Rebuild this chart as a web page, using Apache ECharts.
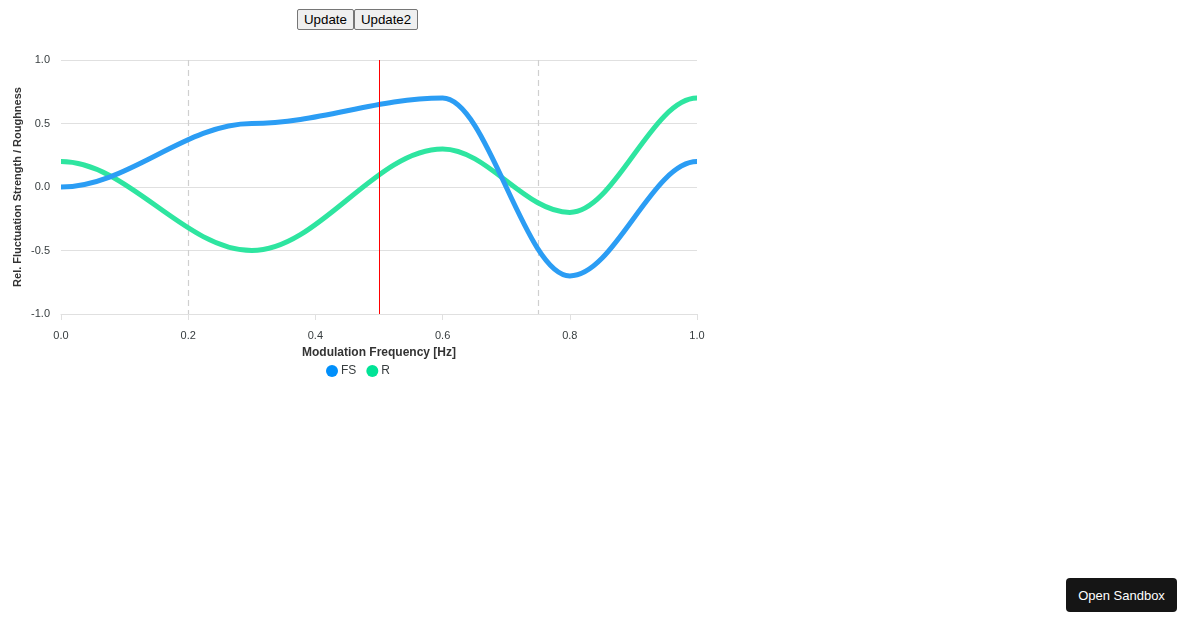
<!DOCTYPE html>
<html>
<head>
<meta charset="utf-8">
<script src="https://cdn.jsdelivr.net/npm/echarts@6/dist/echarts.min.js"></script>
<style>
  html, body { margin: 0; padding: 0; background: #fff; width: 1200px; height: 630px; overflow: hidden; font-family: "Liberation Sans", Arial, sans-serif; }
  #chart { position: absolute; left: 0; top: 0; width: 1200px; height: 630px; }
  .btns { position: absolute; left: 297px; top: 9px; display: flex; z-index: 2; }
  .btns button { font-family: "Liberation Sans", Arial, sans-serif; font-size: 13.3px; height: 21px; padding: 0 6px; border: 1px solid #767676; border-radius: 2px; background: #efefef; color: #000; margin: 0; }
  .sandbox { position: absolute; left: 1066px; top: 578px; width: 111px; height: 34px; background: #151515; color: #fff; border: none; border-radius: 4px; font-family: "Liberation Sans", Arial, sans-serif; font-size: 13px; z-index: 2; }
</style>
</head>
<body>
<div class="btns"><button>Update</button><button>Update2</button></div>
<div id="chart"></div>
<button class="sandbox">Open Sandbox</button>
<script>
const seriesNames = ['FS', 'R'];
const xValues = [0, 0.3, 0.6, 0.8, 1.0];
const fsValues = [0, 0.5, 0.7, -0.7, 0.2];
const rValues = [0.2, -0.5, 0.3, -0.2, 0.7];
const dashedMarks = [0.2, 0.75];
const redMarks = [0.5];
const xTicks = [0, 0.2, 0.4, 0.6, 0.8, 1.0];

const lineColors = ['#2B9DF4', '#2EE5A0'];
const legendColors = ['#008FFB', '#00E396'];
const Y_MIN = -1, Y_MAX = 1;

function pairs(xs, ys) { return xs.map((x, i) => [x, ys[i]]); }

// Smooth curve: horizontal control handles at 35% of each segment, positioned through the axis scales.
function makeRenderer(ys, color) {
  return function (params, api) {
    if (params.dataIndex !== 0) return null;
    const pts = xValues.map((x, i) => api.coord([x, ys[i]]));
    let d = 'M' + pts[0][0] + ' ' + pts[0][1];
    for (let i = 1; i < pts.length; i++) {
      const p0 = pts[i - 1], p1 = pts[i];
      const len = (p1[0] - p0[0]) * 0.35;
      d += ' C' + (p0[0] + len) + ' ' + p0[1] + ' ' + (p1[0] - len) + ' ' + p1[1] + ' ' + p1[0] + ' ' + p1[1];
    }
    return {
      type: 'path',
      shape: { pathData: d },
      style: { fill: 'none', stroke: color, lineWidth: 5, lineCap: 'butt', lineJoin: 'round' }
    };
  };
}

function vLineRenderer(color, dash, width) {
  return function (params, api) {
    const v = api.value(0);
    const a = api.coord([v, Y_MAX]);
    const b = api.coord([v, Y_MIN]);
    const x = Math.round(a[0]) + 0.5;
    return {
      type: 'line',
      shape: { x1: x, y1: a[1], x2: x, y2: b[1] },
      style: { stroke: color, lineWidth: width, lineDash: dash }
    };
  };
}

const chart = echarts.init(document.getElementById('chart'), null, { renderer: 'canvas' });
chart.setOption({
  animation: false,
  grid: { left: 61, top: 60, width: 636, height: 254, containLabel: false },
  legend: {
    data: seriesNames.map((n, i) => ({ name: n, icon: 'circle', itemStyle: { color: legendColors[i] } })),
    left: 321, top: 360, itemWidth: 12, itemHeight: 12, itemGap: 10,
    textStyle: { color: '#373d3f', fontSize: 12, fontFamily: 'Liberation Sans', padding: [0, 0, 0, -2] }
  },
  xAxis: {
    type: 'value', min: 0, max: 1, interval: 0.2,
    name: 'Modulation Frequency [Hz]', nameLocation: 'middle', nameGap: 33, nameMoveOverlap: false,
    nameTextStyle: { color: '#333', fontWeight: 'bold', fontSize: 12, fontFamily: 'Liberation Sans' },
    axisLine: { show: true, onZero: false, lineStyle: { color: '#e0e0e0', width: 1 } },
    axisTick: { show: true, length: 6, lineStyle: { color: '#e0e0e0' } },
    axisLabel: { color: '#373d3f', fontSize: 11, fontFamily: 'Liberation Sans', margin: 16, formatter: v => v.toFixed(1) },
    splitLine: { show: false }
  },
  yAxis: {
    type: 'value', min: Y_MIN, max: Y_MAX, interval: 0.5,
    name: 'Rel. Fluctuation Strength / Roughness', nameLocation: 'middle', nameGap: 38, nameRotate: 90, nameMoveOverlap: false,
    nameTextStyle: { color: '#333', fontWeight: 'bold', fontSize: 11, fontFamily: 'Liberation Sans' },
    axisLine: { show: false }, axisTick: { show: false },
    axisLabel: { color: '#373d3f', fontSize: 11, fontFamily: 'Liberation Sans', margin: 11, formatter: v => v.toFixed(1), padding: [0, 0, 3, 0] },
    splitLine: { show: true, lineStyle: { color: '#e0e0e0', width: 1 } }
  },
  series: [
    {
      name: 'dashed-marks', type: 'custom', silent: true, encode: { x: 0 },
      data: dashedMarks.map(v => [v]),
      renderItem: vLineRenderer('#cfcfcf', [6, 4], 1.2), z: 1
    },
    {
      name: 'red-marks', type: 'custom', silent: true, encode: { x: 0 },
      data: redMarks.map(v => [v]),
      renderItem: vLineRenderer('#ff0000', null, 1), z: 5
    },
    {
      name: seriesNames[1], type: 'custom', data: pairs(xValues, rValues),
      renderItem: makeRenderer(rValues, lineColors[1]),
      itemStyle: { color: legendColors[1] }, z: 3
    },
    {
      name: seriesNames[0], type: 'custom', data: pairs(xValues, fsValues),
      renderItem: makeRenderer(fsValues, lineColors[0]),
      itemStyle: { color: legendColors[0] }, z: 4
    }
  ]
});
</script>
</body>
</html>
